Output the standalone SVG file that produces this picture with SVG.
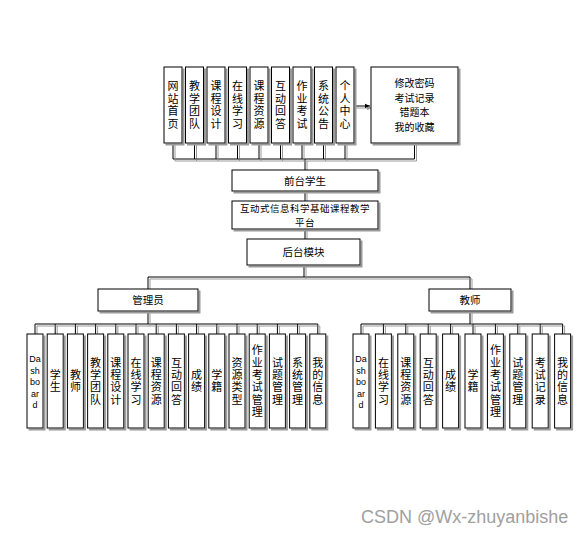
<svg xmlns="http://www.w3.org/2000/svg" width="585" height="536" viewBox="0 0 585 536">
<defs>
<filter id="sh" filterUnits="userSpaceOnUse" x="0" y="0" width="585" height="536">
<feOffset in="SourceAlpha" dx="2" dy="2" result="o"/>
<feFlood flood-color="#9a9a9a"/>
<feComposite in2="o" operator="in"/>
<feMerge><feMergeNode/><feMergeNode in="SourceGraphic"/></feMerge>
</filter>
<marker id="ar" markerWidth="6" markerHeight="6" refX="5" refY="3" orient="auto" markerUnits="userSpaceOnUse">
<path d="M0,0.8 L5,3 L0,5.2 Z" fill="#000"/>
</marker>
<style>
rect{fill:#fff;stroke:#000;stroke-width:1;filter:url(#sh)}
text{font-family:"Noto Sans CJK SC","Liberation Sans",sans-serif;font-size:11px;fill:#000;text-anchor:middle}
.h{font-size:10.5px}
.p{font-size:9.5px;letter-spacing:0.5px}
.m{font-size:10px}
.v text{writing-mode:vertical-rl}
.d{font-family:"Liberation Sans","DejaVu Sans",sans-serif;font-size:9px}
.c path{fill:none;stroke:#000;stroke-width:1;filter:url(#sh)}
.wm{font-family:"Liberation Sans",Arial,sans-serif;font-size:18px;fill:#a0a0a0;text-anchor:start}
</style>
</defs>
<rect x="0" y="0" width="585" height="536" style="fill:#fff;stroke:none;filter:none"/>

<g class="c" id="connectors">
<path d="M173,143V159M194.5,143V159M216,143V159M237.5,143V159M259,143V159M280.5,143V159M302,143V159M323.5,143V159M345,143V159M414.5,143V159M173,159H414.5M305,159V170"/>
<path d="M354,106H370" marker-end="url(#ar)"/>
<path d="M305,191V201M305,229V239M304,265V277M148,277H470M148,277V289M470,277V289"/>
<path d="M148,311V324M35,324H317.8M35,324V334M55.2,324V334M75.4,324V334M95.6,324V334M115.8,324V334M136,324V334M156.2,324V334M176.4,324V334M196.6,324V334M216.8,324V334M237,324V334M257.2,324V334M277.4,324V334M297.6,324V334M317.8,324V334"/>
<path d="M470,311V324M361,324H562.6M361,324V334M383.4,324V334M405.8,324V334M428.2,324V334M450.6,324V334M473,324V334M495.4,324V334M517.8,324V334M540.2,324V334M562.6,324V334"/>
</g>

<g id="t0" class="v"><rect x="164" y="67" width="18" height="76"/><text x="173" y="86.25">网</text><text x="173" y="98.75">站</text><text x="173" y="111.25">首</text><text x="173" y="123.75">页</text></g>
<g id="t1" class="v"><rect x="185.5" y="67" width="18" height="76"/><text x="194.5" y="86.25">教</text><text x="194.5" y="98.75">学</text><text x="194.5" y="111.25">团</text><text x="194.5" y="123.75">队</text></g>
<g id="t2" class="v"><rect x="207" y="67" width="18" height="76"/><text x="216" y="86.25">课</text><text x="216" y="98.75">程</text><text x="216" y="111.25">设</text><text x="216" y="123.75">计</text></g>
<g id="t3" class="v"><rect x="228.5" y="67" width="18" height="76"/><text x="237.5" y="86.25">在</text><text x="237.5" y="98.75">线</text><text x="237.5" y="111.25">学</text><text x="237.5" y="123.75">习</text></g>
<g id="t4" class="v"><rect x="250" y="67" width="18" height="76"/><text x="259" y="86.25">课</text><text x="259" y="98.75">程</text><text x="259" y="111.25">资</text><text x="259" y="123.75">源</text></g>
<g id="t5" class="v"><rect x="271.5" y="67" width="18" height="76"/><text x="280.5" y="86.25">互</text><text x="280.5" y="98.75">动</text><text x="280.5" y="111.25">回</text><text x="280.5" y="123.75">答</text></g>
<g id="t6" class="v"><rect x="293" y="67" width="18" height="76"/><text x="302" y="86.25">作</text><text x="302" y="98.75">业</text><text x="302" y="111.25">考</text><text x="302" y="123.75">试</text></g>
<g id="t7" class="v"><rect x="314.5" y="67" width="18" height="76"/><text x="323.5" y="86.25">系</text><text x="323.5" y="98.75">统</text><text x="323.5" y="111.25">公</text><text x="323.5" y="123.75">告</text></g>
<g id="t8" class="v"><rect x="336" y="67" width="18" height="76"/><text x="345" y="86.25">个</text><text x="345" y="98.75">人</text><text x="345" y="111.25">中</text><text x="345" y="123.75">心</text></g>
<g id="personal"><rect x="371" y="67" width="87" height="76"/><text class="m" x="414.5" y="87">修改密码</text><text class="m" x="414.5" y="101.5">考试记录</text><text class="m" x="414.5" y="116">错题本</text><text class="m" x="414.5" y="130.5">我的收藏</text></g>

<g id="front"><rect x="232" y="170" width="146" height="21"/><text class="h" x="305" y="185">前台学生</text></g>
<g id="platform"><rect x="232" y="201" width="146" height="28"/><text class="p" x="305" y="211.5">互动式信息科学基础课程教学</text><text class="p" x="305" y="225.5">平台</text></g>
<g id="backend"><rect x="247" y="239" width="113" height="26"/><text class="h" x="303.5" y="256">后台模块</text></g>
<g id="admin"><rect x="98" y="289" width="100" height="22"/><text class="h" x="148" y="304">管理员</text></g>
<g id="teacher"><rect x="429" y="289" width="82" height="22"/><text class="h" x="470" y="304">教师</text></g>

<g id="a0"><rect x="27" y="334" width="16" height="94"/><text class="d" x="35" y="362">Da</text><text class="d" x="35" y="373.5">sh</text><text class="d" x="35" y="385">bo</text><text class="d" x="35" y="396.5">ar</text><text class="d" x="35" y="408">d</text></g>
<g id="a1" class="v"><rect x="47.2" y="334" width="16" height="94"/><text x="55.2" y="374.85">学</text><text x="55.2" y="387.15">生</text></g>
<g id="a2" class="v"><rect x="67.4" y="334" width="16" height="94"/><text x="75.4" y="374.85">教</text><text x="75.4" y="387.15">师</text></g>
<g id="a3" class="v"><rect x="87.6" y="334" width="16" height="94"/><text x="95.6" y="362.55">教</text><text x="95.6" y="374.85">学</text><text x="95.6" y="387.15">团</text><text x="95.6" y="399.45">队</text></g>
<g id="a4" class="v"><rect x="107.8" y="334" width="16" height="94"/><text x="115.8" y="362.55">课</text><text x="115.8" y="374.85">程</text><text x="115.8" y="387.15">设</text><text x="115.8" y="399.45">计</text></g>
<g id="a5" class="v"><rect x="128" y="334" width="16" height="94"/><text x="136" y="362.55">在</text><text x="136" y="374.85">线</text><text x="136" y="387.15">学</text><text x="136" y="399.45">习</text></g>
<g id="a6" class="v"><rect x="148.2" y="334" width="16" height="94"/><text x="156.2" y="362.55">课</text><text x="156.2" y="374.85">程</text><text x="156.2" y="387.15">资</text><text x="156.2" y="399.45">源</text></g>
<g id="a7" class="v"><rect x="168.4" y="334" width="16" height="94"/><text x="176.4" y="362.55">互</text><text x="176.4" y="374.85">动</text><text x="176.4" y="387.15">回</text><text x="176.4" y="399.45">答</text></g>
<g id="a8" class="v"><rect x="188.6" y="334" width="16" height="94"/><text x="196.6" y="374.85">成</text><text x="196.6" y="387.15">绩</text></g>
<g id="a9" class="v"><rect x="208.8" y="334" width="16" height="94"/><text x="216.8" y="374.85">学</text><text x="216.8" y="387.15">籍</text></g>
<g id="a10" class="v"><rect x="229" y="334" width="16" height="94"/><text x="237" y="362.55">资</text><text x="237" y="374.85">源</text><text x="237" y="387.15">类</text><text x="237" y="399.45">型</text></g>
<g id="a11" class="v"><rect x="249.2" y="334" width="16" height="94"/><text x="257.2" y="350.25">作</text><text x="257.2" y="362.55">业</text><text x="257.2" y="374.85">考</text><text x="257.2" y="387.15">试</text><text x="257.2" y="399.45">管</text><text x="257.2" y="411.75">理</text></g>
<g id="a12" class="v"><rect x="269.4" y="334" width="16" height="94"/><text x="277.4" y="362.55">试</text><text x="277.4" y="374.85">题</text><text x="277.4" y="387.15">管</text><text x="277.4" y="399.45">理</text></g>
<g id="a13" class="v"><rect x="289.6" y="334" width="16" height="94"/><text x="297.6" y="362.55">系</text><text x="297.6" y="374.85">统</text><text x="297.6" y="387.15">管</text><text x="297.6" y="399.45">理</text></g>
<g id="a14" class="v"><rect x="309.8" y="334" width="16" height="94"/><text x="317.8" y="362.55">我</text><text x="317.8" y="374.85">的</text><text x="317.8" y="387.15">信</text><text x="317.8" y="399.45">息</text></g>

<g id="b0"><rect x="353" y="334" width="16" height="94"/><text class="d" x="361" y="362">Da</text><text class="d" x="361" y="373.5">sh</text><text class="d" x="361" y="385">bo</text><text class="d" x="361" y="396.5">ar</text><text class="d" x="361" y="408">d</text></g>
<g id="b1" class="v"><rect x="375.4" y="334" width="16" height="94"/><text x="383.4" y="362.55">在</text><text x="383.4" y="374.85">线</text><text x="383.4" y="387.15">学</text><text x="383.4" y="399.45">习</text></g>
<g id="b2" class="v"><rect x="397.8" y="334" width="16" height="94"/><text x="405.8" y="362.55">课</text><text x="405.8" y="374.85">程</text><text x="405.8" y="387.15">资</text><text x="405.8" y="399.45">源</text></g>
<g id="b3" class="v"><rect x="420.2" y="334" width="16" height="94"/><text x="428.2" y="362.55">互</text><text x="428.2" y="374.85">动</text><text x="428.2" y="387.15">回</text><text x="428.2" y="399.45">答</text></g>
<g id="b4" class="v"><rect x="442.6" y="334" width="16" height="94"/><text x="450.6" y="374.85">成</text><text x="450.6" y="387.15">绩</text></g>
<g id="b5" class="v"><rect x="465" y="334" width="16" height="94"/><text x="473" y="374.85">学</text><text x="473" y="387.15">籍</text></g>
<g id="b6" class="v"><rect x="487.4" y="334" width="16" height="94"/><text x="495.4" y="350.25">作</text><text x="495.4" y="362.55">业</text><text x="495.4" y="374.85">考</text><text x="495.4" y="387.15">试</text><text x="495.4" y="399.45">管</text><text x="495.4" y="411.75">理</text></g>
<g id="b7" class="v"><rect x="509.8" y="334" width="16" height="94"/><text x="517.8" y="362.55">试</text><text x="517.8" y="374.85">题</text><text x="517.8" y="387.15">管</text><text x="517.8" y="399.45">理</text></g>
<g id="b8" class="v"><rect x="532.2" y="334" width="16" height="94"/><text x="540.2" y="362.55">考</text><text x="540.2" y="374.85">试</text><text x="540.2" y="387.15">记</text><text x="540.2" y="399.45">录</text></g>
<g id="b9" class="v"><rect x="554.6" y="334" width="16" height="94"/><text x="562.6" y="362.55">我</text><text x="562.6" y="374.85">的</text><text x="562.6" y="387.15">信</text><text x="562.6" y="399.45">息</text></g>

<text class="wm" x="361" y="523">CSDN @Wx-zhuyanbishe</text>
</svg>
